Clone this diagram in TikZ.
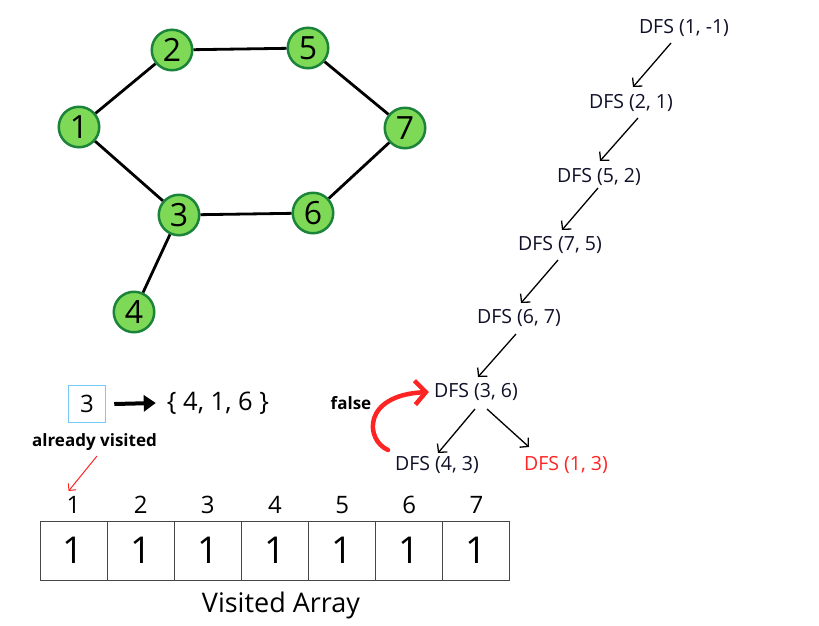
\documentclass[tikz,border=0pt]{standalone}
\usepackage{fontspec}
\setmainfont{Open Sans}
\usetikzlibrary{arrows.meta}
\definecolor{nodefill}{RGB}{126,217,87}
\definecolor{nodeedge}{RGB}{28,132,58}
\definecolor{boxblue}{RGB}{120,200,248}
\definecolor{hlred}{RGB}{255,36,36}
\definecolor{gridgrey}{RGB}{70,70,70}
\definecolor{calltext}{RGB}{15,15,40}
\begin{document}
\begin{tikzpicture}[x=1pt,y=-1pt,
  gnode/.style={circle,draw=nodeedge,line width=2.5pt,fill=nodefill,minimum size=40.5pt,inner sep=0pt,font=\fontsize{32}{32}\selectfont},
  gedge/.style={line width=2.8pt,black},
  call/.style={font=\fontsize{19.5}{20}\selectfont,inner sep=1pt,text=calltext},
  callarrow/.style={line width=1.3pt,black,-{Straight Barb[length=6pt,width=13pt]}},
  cell/.style={draw=gridgrey,line width=1pt,minimum width=67.14pt,minimum height=59pt,inner sep=0pt,font=\fontsize{37}{37}\selectfont},
  idx/.style={font=\fontsize{24}{24}\selectfont,inner sep=1pt},
  boldlabel/.style={font=\bfseries\fontsize{17}{17}\selectfont,inner sep=1pt}
]
\useasboundingbox (0,0) rectangle (819,625);

% graph
\node[gnode] (n1) at (79,127) {1};
\node[gnode] (n2) at (172,50) {2};
\node[gnode] (n5) at (308,48) {5};
\node[gnode] (n7) at (405,128) {7};
\node[gnode] (n3) at (179,215) {3};
\node[gnode] (n6) at (313,213) {6};
\node[gnode] (n4) at (134,312) {4};
\draw[gedge] (n1) -- (n2);
\draw[gedge] (n2) -- (n5);
\draw[gedge] (n5) -- (n7);
\draw[gedge] (n7) -- (n6);
\draw[gedge] (n6) -- (n3);
\draw[gedge] (n3) -- (n1);
\draw[gedge] (n3) -- (n4);

% DFS calls
\node[call] (d1) at (684,28) {DFS (1, -1)};
\node[call] (d2) at (631,103) {DFS (2, 1)};
\node[call] (d3) at (599,177) {DFS (5, 2)};
\node[call] (d4) at (560,245) {DFS (7, 5)};
\node[call] (d5) at (519,318) {DFS (6, 7)};
\node[call] (d6) at (476,392) {DFS (3, 6)};
\node[call] (d7) at (437,465) {DFS (4, 3)};
\node[call,text=hlred] (d8) at (566,465) {DFS (1, 3)};
\draw[callarrow] ([shift={(-13,15)}]d1.center) -- ([shift={(2,-16)}]d2.center);
\draw[callarrow] ([shift={(7,15)}]d2.center) -- ([shift={(1,-16)}]d3.center);
\draw[callarrow] ([shift={(-1,11)}]d3.center) -- ([shift={(2,-15)}]d4.center);
\draw[callarrow] ([shift={(-2,15)}]d4.center) -- ([shift={(2,-15)}]d5.center);
\draw[callarrow] ([shift={(-3,16)}]d5.center) -- ([shift={(2,-15)}]d6.center);
\draw[callarrow] ([shift={(-1,17)}]d6.center) -- ([shift={(1,-12)}]d7.center);
\draw[callarrow] ([shift={(11,17)}]d6.center) -- ([shift={(-37,-18)}]d8.center);

% false curve
\coordinate (fstart) at (388,450);
\node[boldlabel] (f) at (351,403) {false};
\draw[hlred,line width=4.5pt,line cap=round,-{Straight Barb[length=11pt,width=24pt]}]
  (fstart) .. controls (365,440) and (362,395) .. ([xshift=-4pt]d6.west);

% adjacency
\node[draw=boxblue,line width=1.5pt,minimum size=37pt,inner sep=0pt,font=\fontsize{24}{24}\selectfont] (b3) at (87,404) {3};
\node[font=\fontsize{25.5}{26}\selectfont,inner sep=1pt] (set) at (218,403) {\{ 4, 1, 6 \}};
\draw[line width=4pt,-{Triangle[length=12pt,width=16pt]}] ([xshift=8pt]b3.east) -- ([xshift=-10pt]set.west);

\node[boldlabel] (av) at (94.5,442) {already visited};

% visited array
\foreach \i in {1,...,7} {
  \node[cell] (c\i) at ({40+67.14*(\i-0.5)},550.5) {1};
  \node[idx] (i\i) at ({40+67.14*(\i-0.5)},505) {\i};
}
\draw[hlred,line width=1pt,-{Straight Barb[length=5pt,width=10pt]}] ([shift={(2.5,14)}]av.center) -- ([shift={(-5,-14)}]i1.center);
\node[font=\fontsize{27}{27}\selectfont] (va) at (281,605) {Visited Array};
\end{tikzpicture}
\end{document}
